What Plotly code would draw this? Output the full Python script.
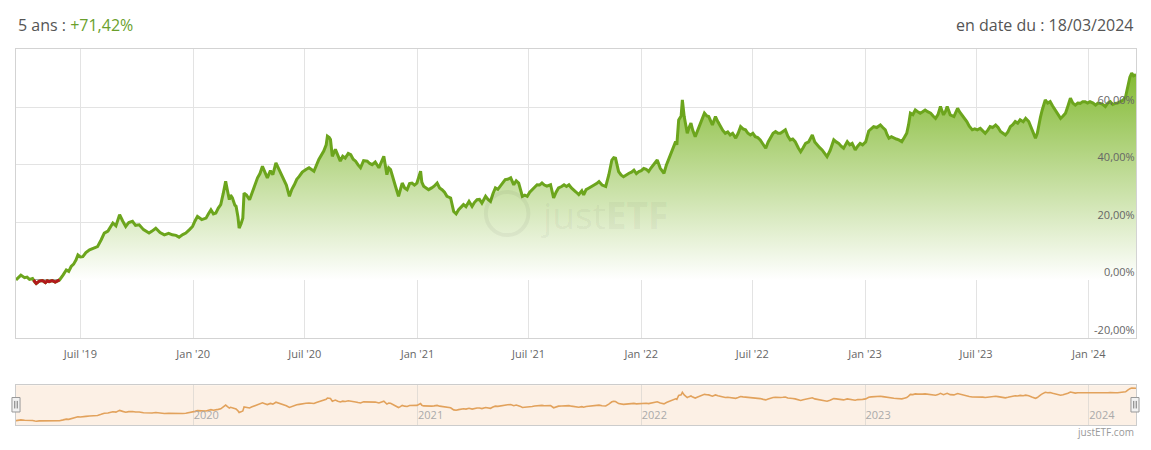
import pandas as pd
import plotly.graph_objects as go

# ---------------- data (performance in %) ----------------
dates = [
    "2019-03-18", "2019-03-22", "2019-03-26", "2019-04-01", "2019-04-05", "2019-04-09", "2019-04-14",
    "2019-04-18", "2019-04-20", "2019-04-25", "2019-04-30", "2019-05-05", "2019-05-08", "2019-05-11",
    "2019-05-16", "2019-05-21", "2019-05-25", "2019-05-28", "2019-06-03", "2019-06-08", "2019-06-12",
    "2019-06-16", "2019-06-20", "2019-06-24", "2019-06-27", "2019-07-01", "2019-07-05", "2019-07-10",
    "2019-07-16", "2019-07-22", "2019-07-29", "2019-08-04", "2019-08-09", "2019-08-15", "2019-08-23",
    "2019-08-28", "2019-09-03", "2019-09-08", "2019-09-13", "2019-09-18", "2019-09-24", "2019-09-29",
    "2019-10-05", "2019-10-12", "2019-10-21", "2019-10-26", "2019-11-01", "2019-11-08", "2019-11-15",
    "2019-11-22", "2019-11-28", "2019-12-04", "2019-12-09", "2019-12-15", "2019-12-20", "2019-12-26",
    "2019-12-31", "2020-01-04", "2020-01-08", "2020-01-15", "2020-01-22", "2020-01-26", "2020-01-30",
    "2020-02-03", "2020-02-07", "2020-02-11", "2020-02-15", "2020-02-19", "2020-02-23", "2020-02-26",
    "2020-02-29", "2020-03-02", "2020-03-05", "2020-03-09", "2020-03-11", "2020-03-14", "2020-03-16",
    "2020-03-19", "2020-03-22", "2020-03-24", "2020-03-28", "2020-04-02", "2020-04-06", "2020-04-10",
    "2020-04-15", "2020-04-19", "2020-04-23", "2020-04-27", "2020-05-01", "2020-05-06", "2020-05-10",
    "2020-05-15", "2020-05-20", "2020-05-26", "2020-06-01", "2020-06-06", "2020-06-10", "2020-06-14",
    "2020-06-18", "2020-06-22", "2020-06-27", "2020-07-03",
    "2020-07-08", "2020-07-16", "2020-07-20", "2020-07-24", "2020-08-01", "2020-08-05", "2020-08-07",
    "2020-08-10", "2020-08-12", "2020-08-15", "2020-08-20", "2020-08-24", "2020-08-28", "2020-09-01",
    "2020-09-05", "2020-09-10", "2020-09-14", "2020-09-18", "2020-09-22", "2020-09-26", "2020-09-30",
    "2020-10-05", "2020-10-11", "2020-10-15", "2020-10-19", "2020-10-24", "2020-10-30", "2020-11-04",
    "2020-11-07", "2020-11-12", "2020-11-15", "2020-11-18", "2020-11-22", "2020-11-26", "2020-12-01",
    "2020-12-04", "2020-12-07", "2020-12-11", "2020-12-15", "2020-12-19", "2020-12-23", "2020-12-27",
    "2020-12-31", "2021-01-06", "2021-01-08", "2021-01-11", "2021-01-15", "2021-01-19", "2021-01-24",
    "2021-01-28", "2021-02-02", "2021-02-06", "2021-02-10", "2021-02-14", "2021-02-18", "2021-02-24",
    "2021-03-01", "2021-03-05", "2021-03-09", "2021-03-13", "2021-03-17", "2021-03-21", "2021-03-26",
    "2021-03-31", "2021-04-04", "2021-04-08", "2021-04-12", "2021-04-16", "2021-04-22", "2021-04-26",
    "2021-04-30", "2021-05-04", "2021-05-08", "2021-05-12", "2021-05-16", "2021-05-20", "2021-05-24",
    "2021-05-28", "2021-06-02", "2021-06-07", "2021-06-11", "2021-06-15", "2021-06-18", "2021-06-21",
    "2021-06-25", "2021-06-29", "2021-07-03", "2021-07-07", "2021-07-11", "2021-07-15", "2021-07-19",
    "2021-07-23", "2021-07-27", "2021-07-31", "2021-08-06", "2021-08-11", "2021-08-15", "2021-08-19",
    "2021-08-24", "2021-08-28", "2021-09-01", "2021-09-05", "2021-09-09", "2021-09-13", "2021-09-17",
    "2021-09-21", "2021-09-26", "2021-09-29", "2021-10-03", "2021-10-07",
    "2021-10-11", "2021-10-16", "2021-10-20", "2021-10-24", "2021-10-29", "2021-11-04", "2021-11-09",
    "2021-11-14", "2021-11-17", "2021-11-20", "2021-11-25", "2021-11-29", "2021-12-03", "2021-12-07",
    "2021-12-12", "2021-12-16", "2021-12-20", "2021-12-24", "2021-12-28", "2022-01-01", "2022-01-05",
    "2022-01-09", "2022-01-13", "2022-01-17", "2022-01-21", "2022-01-27", "2022-02-01", "2022-02-07",
    "2022-02-11", "2022-02-15", "2022-02-20", "2022-02-26", "2022-02-28", "2022-03-03", "2022-03-07",
    "2022-03-09", "2022-03-12", "2022-03-14", "2022-03-17", "2022-03-20", "2022-03-23", "2022-03-26",
    "2022-03-30", "2022-04-03", "2022-04-08", "2022-04-11", "2022-04-14", "2022-04-18", "2022-04-21",
    "2022-04-27", "2022-05-02", "2022-05-06", "2022-05-10", "2022-05-14", "2022-05-18", "2022-05-22",
    "2022-05-26", "2022-05-30", "2022-06-04", "2022-06-08", "2022-06-12", "2022-06-16", "2022-06-20",
    "2022-06-24", "2022-06-28", "2022-07-02", "2022-07-06", "2022-07-10", "2022-07-14", "2022-07-19",
    "2022-07-23", "2022-07-27", "2022-07-31", "2022-08-04", "2022-08-08", "2022-08-12", "2022-08-16",
    "2022-08-20", "2022-08-24", "2022-08-28", "2022-09-01", "2022-09-05", "2022-09-09", "2022-09-14",
    "2022-09-18", "2022-09-22", "2022-09-26", "2022-10-01", "2022-10-07", "2022-10-11", "2022-10-15",
    "2022-10-19", "2022-10-23", "2022-10-27", "2022-10-31", "2022-11-05", "2022-11-11", "2022-11-15",
    "2022-11-19", "2022-11-23", "2022-11-27", "2022-12-03", "2022-12-07", "2022-12-11", "2022-12-16",
    "2022-12-20", "2022-12-24", "2022-12-28", "2023-01-02",
    "2023-01-07", "2023-01-11", "2023-01-15", "2023-01-20", "2023-01-26", "2023-01-30", "2023-02-03",
    "2023-02-06", "2023-02-09", "2023-02-13", "2023-02-17", "2023-02-21", "2023-02-25", "2023-03-02",
    "2023-03-06", "2023-03-10", "2023-03-13", "2023-03-16", "2023-03-20", "2023-03-24", "2023-03-28",
    "2023-04-01", "2023-04-05", "2023-04-09", "2023-04-13", "2023-04-18", "2023-04-22", "2023-04-26",
    "2023-04-30", "2023-05-04", "2023-05-09", "2023-05-12", "2023-05-15", "2023-05-20", "2023-05-26",
    "2023-06-01", "2023-06-04", "2023-06-08", "2023-06-12", "2023-06-16", "2023-06-20", "2023-06-25",
    "2023-06-29", "2023-07-03", "2023-07-08", "2023-07-12", "2023-07-16", "2023-07-20", "2023-07-24",
    "2023-07-28", "2023-08-02", "2023-08-06", "2023-08-10", "2023-08-14", "2023-08-18", "2023-08-22",
    "2023-08-26", "2023-08-30", "2023-09-03", "2023-09-07", "2023-09-11", "2023-09-16", "2023-09-20",
    "2023-09-25", "2023-09-30", "2023-10-03", "2023-10-06", "2023-10-09", "2023-10-11", "2023-10-14",
    "2023-10-17", "2023-10-20", "2023-10-22", "2023-10-26", "2023-10-30", "2023-11-03", "2023-11-07",
    "2023-11-11", "2023-11-16", "2023-11-20", "2023-11-24", "2023-11-28", "2023-12-02", "2023-12-06",
    "2023-12-10", "2023-12-14", "2023-12-18", "2023-12-22", "2023-12-26", "2023-12-30", "2024-01-03",
    "2024-01-08", "2024-01-12", "2024-01-16", "2024-01-20", "2024-01-24", "2024-01-28", "2024-02-01",
    "2024-02-05", "2024-02-09", "2024-02-13", "2024-02-17", "2024-02-21", "2024-02-26", "2024-03-01",
    "2024-03-04", "2024-03-06", "2024-03-08", "2024-03-11", "2024-03-14", "2024-03-17", "2024-03-18",
]

values = [
    0.0, 0.9, 1.7, 0.8, 1.0, 0.2, 0.5,
    -0.8, -1.2, -0.4, -0.2, -0.9, -0.3, -0.6,
    -0.2, -0.7, -0.3, 0.0, 1.8, 3.5, 3.0,
    4.7, 5.5, 7.0, 8.7, 8.0, 8.1, 9.5,
    10.5, 11.0, 11.6, 14.0, 16.3, 17.0, 19.8,
    18.8, 22.7, 20.5, 18.6, 20.0, 20.4, 19.0,
    19.2, 17.5, 16.3, 17.0, 18.0, 16.5, 15.7,
    16.2, 15.7, 15.5, 14.9, 15.8, 16.3, 17.5,
    18.6, 20.5, 22.1, 21.0, 21.5, 23.0, 24.4,
    23.0, 23.3, 25.0, 26.2, 30.0, 34.3, 31.0,
    27.9, 29.5, 28.5, 26.0, 25.6, 22.0, 18.0,
    19.5, 21.5, 30.2, 29.5, 27.9, 30.5, 32.6,
    35.5, 37.0, 39.5, 37.5, 35.5, 38.0, 36.6,
    40.7, 38.5, 36.0, 33.0, 29.1, 31.5, 33.1,
    35.0, 36.0, 37.5, 38.4,
    39.0, 37.8, 40.0, 41.9, 44.8, 47.0, 50.0,
    49.5, 48.8, 43.0, 45.4, 43.0, 41.3, 43.0,
    42.4, 44.0, 43.6, 42.0, 41.3, 40.0, 39.0,
    41.5, 41.3, 40.5, 40.1, 41.0, 39.0, 41.5,
    43.0, 36.6, 39.0, 38.4, 35.0, 32.6, 29.1,
    31.0, 33.7, 32.0, 31.4, 33.5, 33.7, 33.0,
    33.7, 37.8, 34.0, 32.6, 32.0, 31.4, 32.0,
    32.6, 33.7, 32.0, 31.4, 30.5, 29.1, 28.5,
    23.8, 23.0, 24.4, 25.5, 26.2, 25.5, 27.3,
    25.6, 27.0, 27.9, 28.0, 26.7, 29.1, 28.0,
    27.3, 30.0, 32.0, 31.5, 32.6, 33.5, 34.9,
    35.0, 35.5, 33.1, 34.5, 33.7, 31.5, 29.1,
    29.5, 29.1, 30.5, 31.4, 32.5, 33.1, 33.0,
    33.7, 33.0, 32.6, 33.1, 28.5, 30.5, 32.0,
    32.5, 33.1, 32.5, 33.1, 32.0, 31.4, 30.5,
    29.7, 31.0, 29.6, 31.4, 31.9,
    32.5, 33.0, 33.5, 34.2, 33.0, 32.5, 36.5,
    41.7, 42.5, 42.3, 37.7, 36.5, 35.9, 36.5,
    37.1, 37.5, 38.2, 37.0, 37.7, 38.0, 38.8,
    38.5, 37.7, 39.0, 40.0, 41.7, 38.8, 37.1,
    40.0, 42.3, 45.2, 48.1, 47.0, 55.6, 57.0,
    62.6, 56.8, 54.0, 51.0, 53.0, 54.5, 52.0,
    49.8, 52.0, 54.5, 56.5, 58.0, 57.0, 56.8,
    53.9, 56.8, 55.0, 53.3, 52.0, 51.0, 51.5,
    50.4, 51.0, 49.3, 51.0, 53.3, 52.5, 52.2,
    51.0, 50.4, 51.0, 49.8, 49.5, 48.7, 47.0,
    45.8, 48.0, 49.8, 51.0, 51.6, 51.0, 51.0,
    51.5, 52.2, 50.0, 48.7, 49.0, 48.1, 46.0,
    44.6, 46.0, 47.5, 48.0, 50.4, 48.0, 46.9,
    46.0, 45.2, 44.0, 42.9, 45.0, 48.7, 48.0,
    47.5, 46.5, 45.8, 48.1, 47.0, 47.5, 45.2,
    46.5, 47.5, 47.0, 48.0,
    51.8, 52.5, 53.3, 53.0, 53.9, 53.0, 52.2,
    50.5, 49.3, 49.8, 49.3, 49.0, 48.7, 48.1,
    49.5, 51.0, 54.0, 58.0, 57.5, 59.1, 58.5,
    58.0, 58.5, 59.1, 58.5, 58.0, 57.0, 56.2,
    57.5, 60.3, 57.4, 58.5, 60.3, 57.4, 56.8,
    59.7, 58.5, 57.4, 56.5, 55.1, 53.5, 52.2,
    52.5, 52.2, 52.7, 52.0, 51.0, 52.0, 53.3,
    53.0, 53.9, 53.0, 51.6, 51.0, 50.4, 51.5,
    53.3, 54.0, 55.1, 54.5, 55.7, 55.0, 56.2,
    55.1, 52.2, 50.5, 49.3, 51.0, 53.9, 56.5,
    59.1, 61.0, 62.6, 61.5, 62.0, 60.5, 59.1,
    57.5, 56.2, 57.0, 58.0, 60.5, 63.2, 61.5,
    60.8, 61.5, 61.4, 62.0, 62.0, 61.5, 62.0,
    61.5, 60.8, 61.5, 61.4, 61.0, 60.3, 61.5,
    62.0, 61.0, 61.4, 61.5, 62.0, 62.5, 63.7,
    67.0, 69.5, 70.5, 71.9, 71.0, 71.3, 71.42,
]

y_ticks = [-20, 0, 20, 40, 60]
y_tick_labels = ["-20,00%", "0,00%", "20,00%", "40,00%", "60,00%"]
x_tick_dates = ["2019-07-01", "2020-01-01", "2020-07-01", "2021-01-01", "2021-07-01",
                "2022-01-01", "2022-07-01", "2023-01-01", "2023-07-01", "2024-01-01"]
x_tick_labels = ["Juil '19", "Jan '20", "Juil '20", "Jan '21", "Juil '21",
                 "Jan '22", "Juil '22", "Jan '23", "Juil '23", "Jan '24"]
nav_tick_dates = ["2020-01-01", "2021-01-01", "2022-01-01", "2023-01-01", "2024-01-01"]
nav_tick_labels = ["2020", "2021", "2022", "2023", "2024"]

period_label = "5 ans : "
performance_label = "+71,42%"
date_label = "en date du : 18/03/2024"
x_range = ["2019-03-18", "2024-03-18"]

# ---------------- negative (red) segments, with zero crossings ----------------
ts = pd.to_datetime(dates)
aug_x, aug_y = [ts[0]], [values[0]]
for i in range(1, len(values)):
    v0, v1 = values[i - 1], values[i]
    if (v0 > 0 and v1 < 0) or (v0 < 0 and v1 > 0):
        f = v0 / (v0 - v1)
        aug_x.append(ts[i - 1] + (ts[i] - ts[i - 1]) * f)
        aug_y.append(0.0)
    aug_x.append(ts[i])
    aug_y.append(values[i])
red_y = [v if v <= 0 else None for v in aug_y]

GREEN = "#6ca51d"
FONT = "Open Sans"

fig = go.Figure()

fig.add_trace(go.Scatter(
    x=ts, y=values, mode="lines", fill="tozeroy",
    line=dict(color=GREEN, width=3),
    fillgradient=dict(type="vertical",
                      colorscale=[[0, "rgba(255,255,255,1)"], [1, "rgb(128,184,46)"]],
                      start=0, stop=74),
    xaxis="x", yaxis="y", hoverinfo="skip", showlegend=False,
))
fig.add_trace(go.Scatter(
    x=aug_x, y=red_y, mode="lines", line=dict(color="#b3191c", width=3),
    xaxis="x", yaxis="y", hoverinfo="skip", showlegend=False,
))
# navigator series
fig.add_trace(go.Scatter(
    x=ts, y=values, mode="lines", line=dict(color="#e2a25c", width=1.6),
    xaxis="x2", yaxis="y2", hoverinfo="skip", showlegend=False,
))

# page body has an 8px default margin: the figure is sized to fit in the window
fig.update_layout(
    width=1143, height=442,
    margin=dict(l=8, r=15, t=41, b=25),
    paper_bgcolor="white", plot_bgcolor="white",
    font=dict(family=FONT, color="#666666", size=11),
    xaxis=dict(
        domain=[0, 1], anchor="y", range=x_range, type="date",
        tickvals=x_tick_dates, ticktext=x_tick_labels,
        showgrid=True, gridcolor="#e3e3e3", gridwidth=1,
        showline=True, linecolor="#d3d3d3", mirror=True,
        ticks="outside", ticklen=6, tickcolor="rgba(0,0,0,0)",
        tickfont=dict(size=11, color="#666666"), zeroline=False,
    ),
    yaxis=dict(
        domain=[0.2327, 1], anchor="x", range=[-20, 80.3], side="right",
        tickvals=y_ticks, ticktext=y_tick_labels,
        ticklabelposition="inside top",
        showgrid=True, gridcolor="#e3e3e3", gridwidth=1,
        zeroline=True, zerolinecolor="#a8a8a8", zerolinewidth=1,
        showline=True, linecolor="#d3d3d3", mirror=True,
        tickfont=dict(size=11, color="#666666"),
    ),
    xaxis2=dict(
        domain=[0, 1], anchor="y2", range=x_range, type="date",
        tickvals=nav_tick_dates, ticktext=nav_tick_labels,
        ticklabelposition="inside right",
        showgrid=True, gridcolor="#e3ddd6", gridwidth=1,
        showline=True, linecolor="#cccccc", mirror=True,
        ticks="", tickfont=dict(size=11, color="#aaaaaa"), zeroline=False,
    ),
    yaxis2=dict(
        domain=[0, 0.1056], anchor="x2", range=[-9.5, 78],
        showgrid=False, showticklabels=False, zeroline=False,
        showline=True, linecolor="#cccccc", mirror=True, ticks="",
    ),
)

# navigator background
fig.add_shape(type="rect", xref="x2 domain", yref="y2 domain", x0=0, x1=1, y0=0, y1=1,
              fillcolor="#fcf0e5", line=dict(width=0), layer="below")

# navigator handles
for hx in (0.0, 0.9991):
    w = 0.0036
    fig.add_shape(type="rect", xref="paper", yref="paper", x0=hx - w, x1=hx + w,
                  y0=0.0346, y1=0.0731, fillcolor="#f2f2f2", line=dict(color="#999999", width=1))
    for dx in (-0.0011, 0.0011):
        fig.add_shape(type="line", xref="paper", yref="paper", x0=hx + dx, x1=hx + dx,
                      y0=0.044, y1=0.064, line=dict(color="#777777", width=1))

# watermark
fig.add_annotation(xref="paper", yref="paper", x=0.466, y=0.56, xanchor="left", yanchor="middle",
                   text="just<b>ETF</b>", showarrow=False,
                   font=dict(family=FONT, size=37, color="rgba(0,0,0,0.055)"))
fig.add_shape(type="circle", xref="paper", yref="paper", x0=0.4195, x1=0.4575, y0=0.505, y1=0.62,
              line=dict(color="rgba(0,0,0,0.045)", width=4))

# header texts
fig.add_annotation(xref="paper", yref="paper", x=0, y=1, yshift=24, xanchor="left", yanchor="middle",
                   text=period_label + "<span style='color:#6a9f2c'>" + performance_label + "</span>",
                   showarrow=False, font=dict(family=FONT, size=16, color="#555555"))
fig.add_annotation(xref="paper", yref="paper", x=1, y=1, yshift=24, xanchor="right", yanchor="middle",
                   text=date_label, showarrow=False, font=dict(family=FONT, size=16, color="#555555"))
# credit
fig.add_annotation(xref="paper", yref="paper", x=1, y=0, yshift=-7, xanchor="right", yanchor="middle",
                   text="justETF.com", showarrow=False, font=dict(family=FONT, size=10, color="#999999"))

fig.write_html("out.html")
